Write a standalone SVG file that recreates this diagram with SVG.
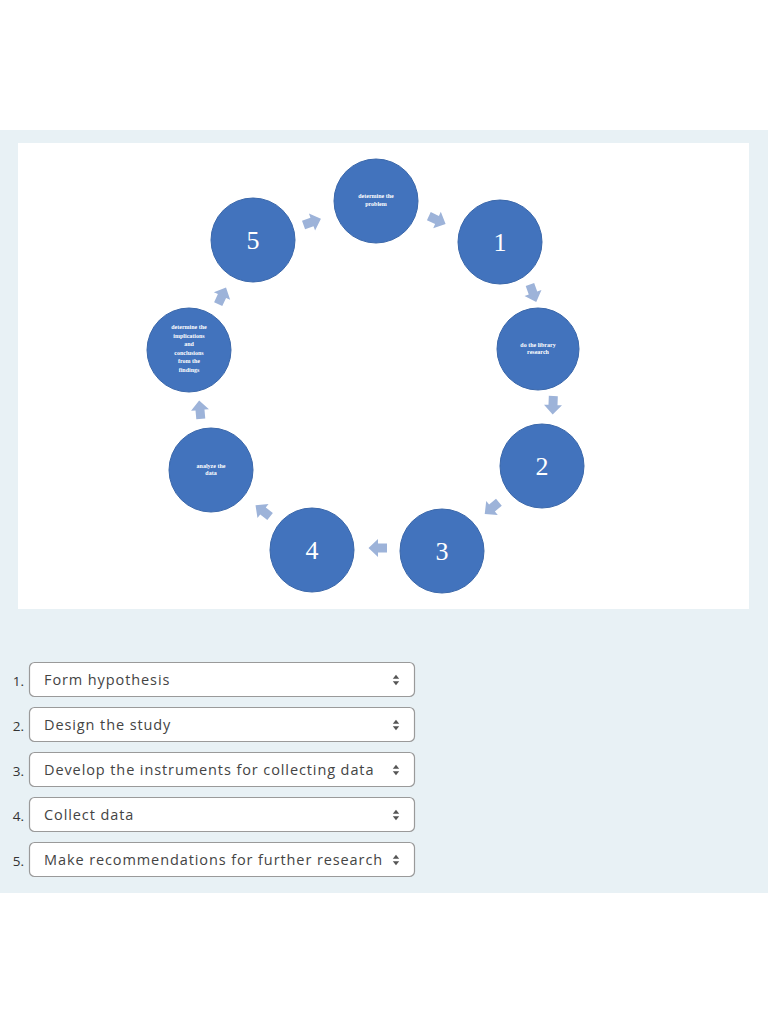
<svg xmlns="http://www.w3.org/2000/svg" width="768" height="1024" viewBox="0 0 768 1024">
<defs>
<style>
.node{fill:#4273bd;stroke:#3a67aa;stroke-width:1}
.num{font-family:"Liberation Serif",serif;font-size:26px;fill:#ffffff;text-anchor:middle}
.small{font-family:"Liberation Serif",serif;font-size:6px;font-weight:bold;fill:#ffffff;text-anchor:middle}
.arrow{fill:#9db3d9}
.box{fill:#ffffff;stroke:#9a9a9a;stroke-width:1.2}
.opt{font-family:"Open Sans","Liberation Sans",sans-serif;font-size:14.5px;letter-spacing:0.9px;fill:#444444}
.lbl{font-family:"Open Sans","Liberation Sans",sans-serif;font-size:13.5px;fill:#333333;text-anchor:end}
.spin{fill:#555555}
</style>
<path id="arr" d="M-9,-4.5 L0,-4.5 L0,-9 L9.5,0 L0,9 L0,4.5 L-9,4.5 Z"/>
<path id="ud" d="M-3.2,-1.2 L0,-5.2 L3.2,-1.2 Z M-3.2,1.2 L0,5.2 L3.2,1.2 Z"/>
</defs>
<rect x="0" y="0" width="768" height="1024" fill="#ffffff"/>
<rect x="0" y="130" width="768" height="763" fill="#e8f1f5"/>
<rect x="18" y="143" width="731" height="466" fill="#ffffff"/>

<g id="connectors" class="arrow">
<use href="#arr" transform="translate(437,220) rotate(25)"/>
<use href="#arr" transform="translate(533,293) rotate(70)"/>
<use href="#arr" transform="translate(553,405) rotate(92)"/>
<use href="#arr" transform="translate(492,508) rotate(140)"/>
<use href="#arr" transform="translate(378,548) rotate(180)"/>
<use href="#arr" transform="translate(263,511) rotate(218)"/>
<use href="#arr" transform="translate(200,410) rotate(265)"/>
<use href="#arr" transform="translate(222,296) rotate(-65)"/>
<use href="#arr" transform="translate(312,222) rotate(-20)"/>
</g>

<g id="n-problem"><circle class="node" cx="376" cy="201" r="42"/>
<text class="small" x="376" y="198">determine the</text><text class="small" x="376" y="206">problem</text></g>
<g id="n-1"><circle class="node" cx="500" cy="242" r="42"/><text class="num" x="500" y="251">1</text></g>
<g id="n-library"><circle class="node" cx="538" cy="349" r="41"/>
<text class="small" x="538" y="347">do the library</text><text class="small" x="538" y="354">research</text></g>
<g id="n-2"><circle class="node" cx="542" cy="466" r="42"/><text class="num" x="542" y="475">2</text></g>
<g id="n-3"><circle class="node" cx="442" cy="551" r="42"/><text class="num" x="442" y="560">3</text></g>
<g id="n-4"><circle class="node" cx="312" cy="550" r="42"/><text class="num" x="312" y="559">4</text></g>
<g id="n-analyze"><circle class="node" cx="211" cy="470" r="42"/>
<text class="small" x="211" y="468">analyze the</text><text class="small" x="211" y="475">data</text></g>
<g id="n-implications"><circle class="node" cx="189" cy="350" r="42"/>
<text class="small" x="189" y="329">determine the</text>
<text class="small" x="189" y="337.5">implications</text>
<text class="small" x="189" y="346">and</text>
<text class="small" x="189" y="354.5">conclusions</text>
<text class="small" x="189" y="363">from the</text>
<text class="small" x="189" y="371.5">findings</text></g>
<g id="n-5"><circle class="node" cx="253" cy="240" r="42"/><text class="num" x="253" y="249">5</text></g>

<g id="sel-1"><text class="lbl" x="24" y="686">1.</text><rect class="box" x="29.5" y="662.5" width="385" height="34" rx="5"/>
<text class="opt" x="44" y="685">Form hypothesis</text><use href="#ud" class="spin" x="396" y="680"/></g>
<g id="sel-2"><text class="lbl" x="24" y="731">2.</text><rect class="box" x="29.5" y="707.5" width="385" height="34" rx="5"/>
<text class="opt" x="44" y="730">Design the study</text><use href="#ud" class="spin" x="396" y="725"/></g>
<g id="sel-3"><text class="lbl" x="24" y="776">3.</text><rect class="box" x="29.5" y="752.5" width="385" height="34" rx="5"/>
<text class="opt" x="44" y="775">Develop the instruments for collecting data</text><use href="#ud" class="spin" x="396" y="770"/></g>
<g id="sel-4"><text class="lbl" x="24" y="821">4.</text><rect class="box" x="29.5" y="797.5" width="385" height="34" rx="5"/>
<text class="opt" x="44" y="820">Collect data</text><use href="#ud" class="spin" x="396" y="815"/></g>
<g id="sel-5"><text class="lbl" x="24" y="866">5.</text><rect class="box" x="29.5" y="842.5" width="385" height="34" rx="5"/>
<text class="opt" x="44" y="865">Make recommendations for further research</text><use href="#ud" class="spin" x="396" y="860"/></g>
</svg>
